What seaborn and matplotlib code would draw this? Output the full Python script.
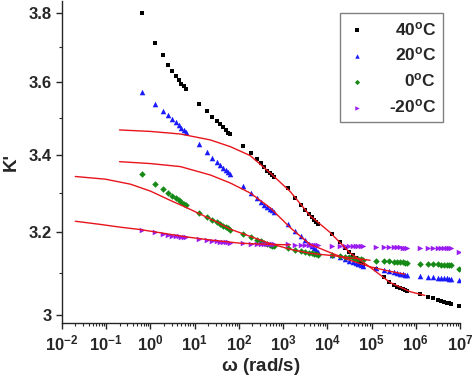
import numpy as np
import pandas as pd
import matplotlib
matplotlib.use("Agg")
import matplotlib.pyplot as plt
import matplotlib.ticker as mticker
import seaborn as sns

# angular frequency grid (rad/s), shared by all temperatures
omega = [0.628, 1.257, 1.885, 2.513, 3.142, 3.770, 4.398, 5.027, 5.655, 6.283,
         12.57, 18.85, 25.13, 31.42, 37.70, 43.98, 50.27, 56.55, 62.83,
         125.7, 188.5, 251.3, 314.2, 377.0, 439.8, 502.7, 565.5, 628.3,
         1257, 1885, 2513, 3142, 3770, 4398, 5027, 5655, 6283,
         12570, 18850, 25130, 31420, 37700, 43980, 50270, 56550, 62830,
         125700, 188500, 251300, 314200, 377000, 439800, 502700, 565500, 628300,
         1.257e6, 1.885e6, 2.513e6, 3.142e6, 3.770e6, 4.398e6, 5.027e6, 5.655e6, 6.283e6,
         9.4e6]

k_40 = [3.800, 3.712, 3.675, 3.648, 3.631, 3.617, 3.605, 3.594, 3.587, 3.580,
        3.539, 3.519, 3.503, 3.492, 3.482, 3.474, 3.466, 3.460, 3.455,
        3.425, 3.404, 3.390, 3.378, 3.368, 3.358, 3.351, 3.346, 3.341,
        3.313, 3.287, 3.269, 3.256, 3.246, 3.238, 3.232, 3.226, 3.222,
        3.196, 3.175, 3.161, 3.151, 3.143, 3.136, 3.130, 3.125, 3.120,
        3.110, 3.090, 3.078, 3.071, 3.067, 3.064, 3.061, 3.059, 3.057,
        3.050, 3.043, 3.039, 3.035, 3.033, 3.031, 3.029, 3.027, 3.025,
        3.022]

k_20 = [3.571, 3.538, 3.519, 3.508, 3.497, 3.488, 3.480, 3.472, 3.466, 3.461,
        3.429, 3.407, 3.393, 3.382, 3.373, 3.366, 3.359, 3.354, 3.350,
        3.318, 3.300, 3.287, 3.277, 3.270, 3.264, 3.259, 3.256, 3.252,
        3.220, 3.203, 3.190, 3.180, 3.172, 3.166, 3.160, 3.155, 3.151,
        3.145, 3.139, 3.134, 3.130, 3.127, 3.124, 3.122, 3.120, 3.118,
        3.112, 3.107, 3.104, 3.102, 3.100, 3.098, 3.097, 3.096, 3.095,
        3.093, 3.091, 3.090, 3.089, 3.088, 3.087, 3.087, 3.086, 3.086,
        3.083]

k_0 = [3.349, 3.324, 3.311, 3.301, 3.293, 3.287, 3.282, 3.277, 3.273, 3.270,
       3.250, 3.239, 3.232, 3.226, 3.221, 3.217, 3.213, 3.210, 3.207,
       3.196, 3.188, 3.182, 3.178, 3.174, 3.171, 3.169, 3.167, 3.166,
       3.160, 3.156, 3.153, 3.151, 3.149, 3.148, 3.147, 3.146, 3.145,
       3.143, 3.141, 3.140, 3.138, 3.137, 3.135, 3.134, 3.133, 3.132,
       3.130, 3.129, 3.128, 3.127, 3.127, 3.126, 3.126, 3.125, 3.125,
       3.123, 3.122, 3.121, 3.121, 3.120, 3.120, 3.119, 3.119, 3.119,
       3.109]

k_m20 = [3.206, 3.200, 3.197, 3.194, 3.192, 3.191, 3.190, 3.189, 3.188, 3.188,
         3.183, 3.181, 3.179, 3.178, 3.177, 3.176, 3.175, 3.175, 3.174,
         3.173, 3.172, 3.172, 3.171, 3.171, 3.171, 3.170, 3.170, 3.170,
         3.170, 3.169, 3.169, 3.169, 3.168, 3.168, 3.168, 3.168, 3.168,
         3.167, 3.166, 3.166, 3.166, 3.166, 3.166, 3.165, 3.165, 3.165,
         3.164, 3.164, 3.163, 3.163, 3.163, 3.163, 3.162, 3.162, 3.162,
         3.162, 3.161, 3.161, 3.161, 3.161, 3.160, 3.160, 3.160, 3.160,
         3.152]

# red fit curves
fit_40_w = [0.2, 1, 4.76, 22.6, 64, 181, 512, 1446, 4080, 11500, 32700, 92500, 2.62e5, 7.4e5, 1.6e6]
fit_40_k = [3.467, 3.463, 3.456, 3.440, 3.422, 3.398, 3.352, 3.304, 3.242, 3.200, 3.149, 3.114, 3.077, 3.055, 3.046]
fit_20_w = [0.2, 1, 4.76, 22.6, 64, 181, 512, 1446, 4080, 11500, 32700, 92500, 2.62e5, 5.6e5]
fit_20_k = [3.382, 3.377, 3.369, 3.347, 3.326, 3.300, 3.262, 3.212, 3.170, 3.150, 3.131, 3.115, 3.104, 3.097]
fit_0_w = [0.02, 0.096, 0.353, 1, 2.83, 6.17, 13.4, 29.3, 64, 181, 512, 1446, 4080, 11500, 32700, 92500]
fit_0_k = [3.343, 3.336, 3.323, 3.305, 3.281, 3.264, 3.246, 3.228, 3.208, 3.190, 3.172, 3.158, 3.148, 3.143, 3.137, 3.131]
fit_m20_w = [0.02, 0.074, 0.21, 0.595, 1.68, 6.17, 22.6, 107, 512, 1446]
fit_m20_k = [3.228, 3.220, 3.213, 3.207, 3.199, 3.189, 3.181, 3.173, 3.170, 3.169]

labels = [r'40$^{\mathbf{o}}$C', r'20$^{\mathbf{o}}$C', r'0$^{\mathbf{o}}$C', r'-20$^{\mathbf{o}}$C']
colors = ['black', '#1a1aff', '#168a16', '#9b1cf2']
markers = ['s', '^', 'D', '>']
sizes = [9, 16, 11, 16]

sns.set_style('ticks')
plt.rcParams['font.family'] = ['Liberation Sans', 'DejaVu Sans']
plt.rcParams['font.weight'] = 'bold'
plt.rcParams['mathtext.fontset'] = 'custom'
plt.rcParams['mathtext.rm'] = 'Liberation Sans:bold'
plt.rcParams['mathtext.bf'] = 'Liberation Sans:bold'
plt.rcParams['mathtext.default'] = 'bf'

fig = plt.figure(figsize=(4.74, 3.81), dpi=100)
ax = fig.add_axes([62 / 474, 58 / 381, 398 / 474, 322 / 381])

for ks, lab, c, m, s in zip([k_40, k_20, k_0, k_m20], labels, colors, markers, sizes):
    sns.scatterplot(x=omega, y=ks, ax=ax, color=c, marker=m, s=s, linewidth=0, label=lab, zorder=2)

for w, k in [(fit_40_w, fit_40_k), (fit_20_w, fit_20_k), (fit_0_w, fit_0_k), (fit_m20_w, fit_m20_k)]:
    sns.lineplot(x=w, y=k, ax=ax, color='#e8141c', linewidth=1.0, sort=False, estimator=None, legend=False, zorder=3)

ax.set_xscale('log')
ax.set_yscale('log')
ax.set_xlim(1e-2, 1e7)
ax.set_ylim(2.981, 3.835)

ax.set_xticks([10.0 ** p for p in range(-2, 8)])
ax.set_xticklabels([r'$\mathbf{10^{%d}}$' % p for p in range(-2, 8)])
ax.xaxis.set_minor_locator(mticker.LogLocator(base=10, subs=np.arange(2, 10), numticks=50))
ax.xaxis.set_minor_formatter(mticker.NullFormatter())

ax.yaxis.set_major_locator(mticker.FixedLocator([3.0, 3.2, 3.4, 3.6, 3.8]))
ax.yaxis.set_major_formatter(mticker.FixedFormatter(['3', '3.2', '3.4', '3.6', '3.8']))
ax.yaxis.set_minor_locator(mticker.FixedLocator([3.1, 3.3, 3.5, 3.7]))
ax.yaxis.set_minor_formatter(mticker.NullFormatter())

ax.tick_params(which='major', direction='out', length=4, width=1, labelsize=12)
ax.tick_params(which='minor', direction='out', length=2.2, width=0.8)
for lab in ax.get_yticklabels():
    lab.set_fontweight('bold')

sns.despine(ax=ax)
ax.spines['left'].set_linewidth(1)
ax.spines['bottom'].set_linewidth(1)

ax.set_xlabel(r'$\omega$ (rad/s)', fontsize=13.5, fontweight='bold', labelpad=2)
ax.set_ylabel("K'", fontsize=13.5, fontweight='bold', labelpad=6)

leg = ax.legend(loc='upper right', bbox_to_anchor=(0.957, 0.963), borderaxespad=0,
                fontsize=12.5, frameon=True, fancybox=False, framealpha=1,
                edgecolor='#808080', handletextpad=1.2, labelspacing=0.45,
                borderpad=0.4, handlelength=1.2, markerscale=0.8)
leg.get_frame().set_linewidth(1)

# right-align the legend labels
fig.canvas.draw()
renderer = fig.canvas.get_renderer()
widths = [t.get_window_extent(renderer).width for t in leg.get_texts()]
shift = max(widths)
for t, w in zip(leg.get_texts(), widths):
    t.set_position((shift - w, 0))

fig.savefig('out.png', dpi=100)
